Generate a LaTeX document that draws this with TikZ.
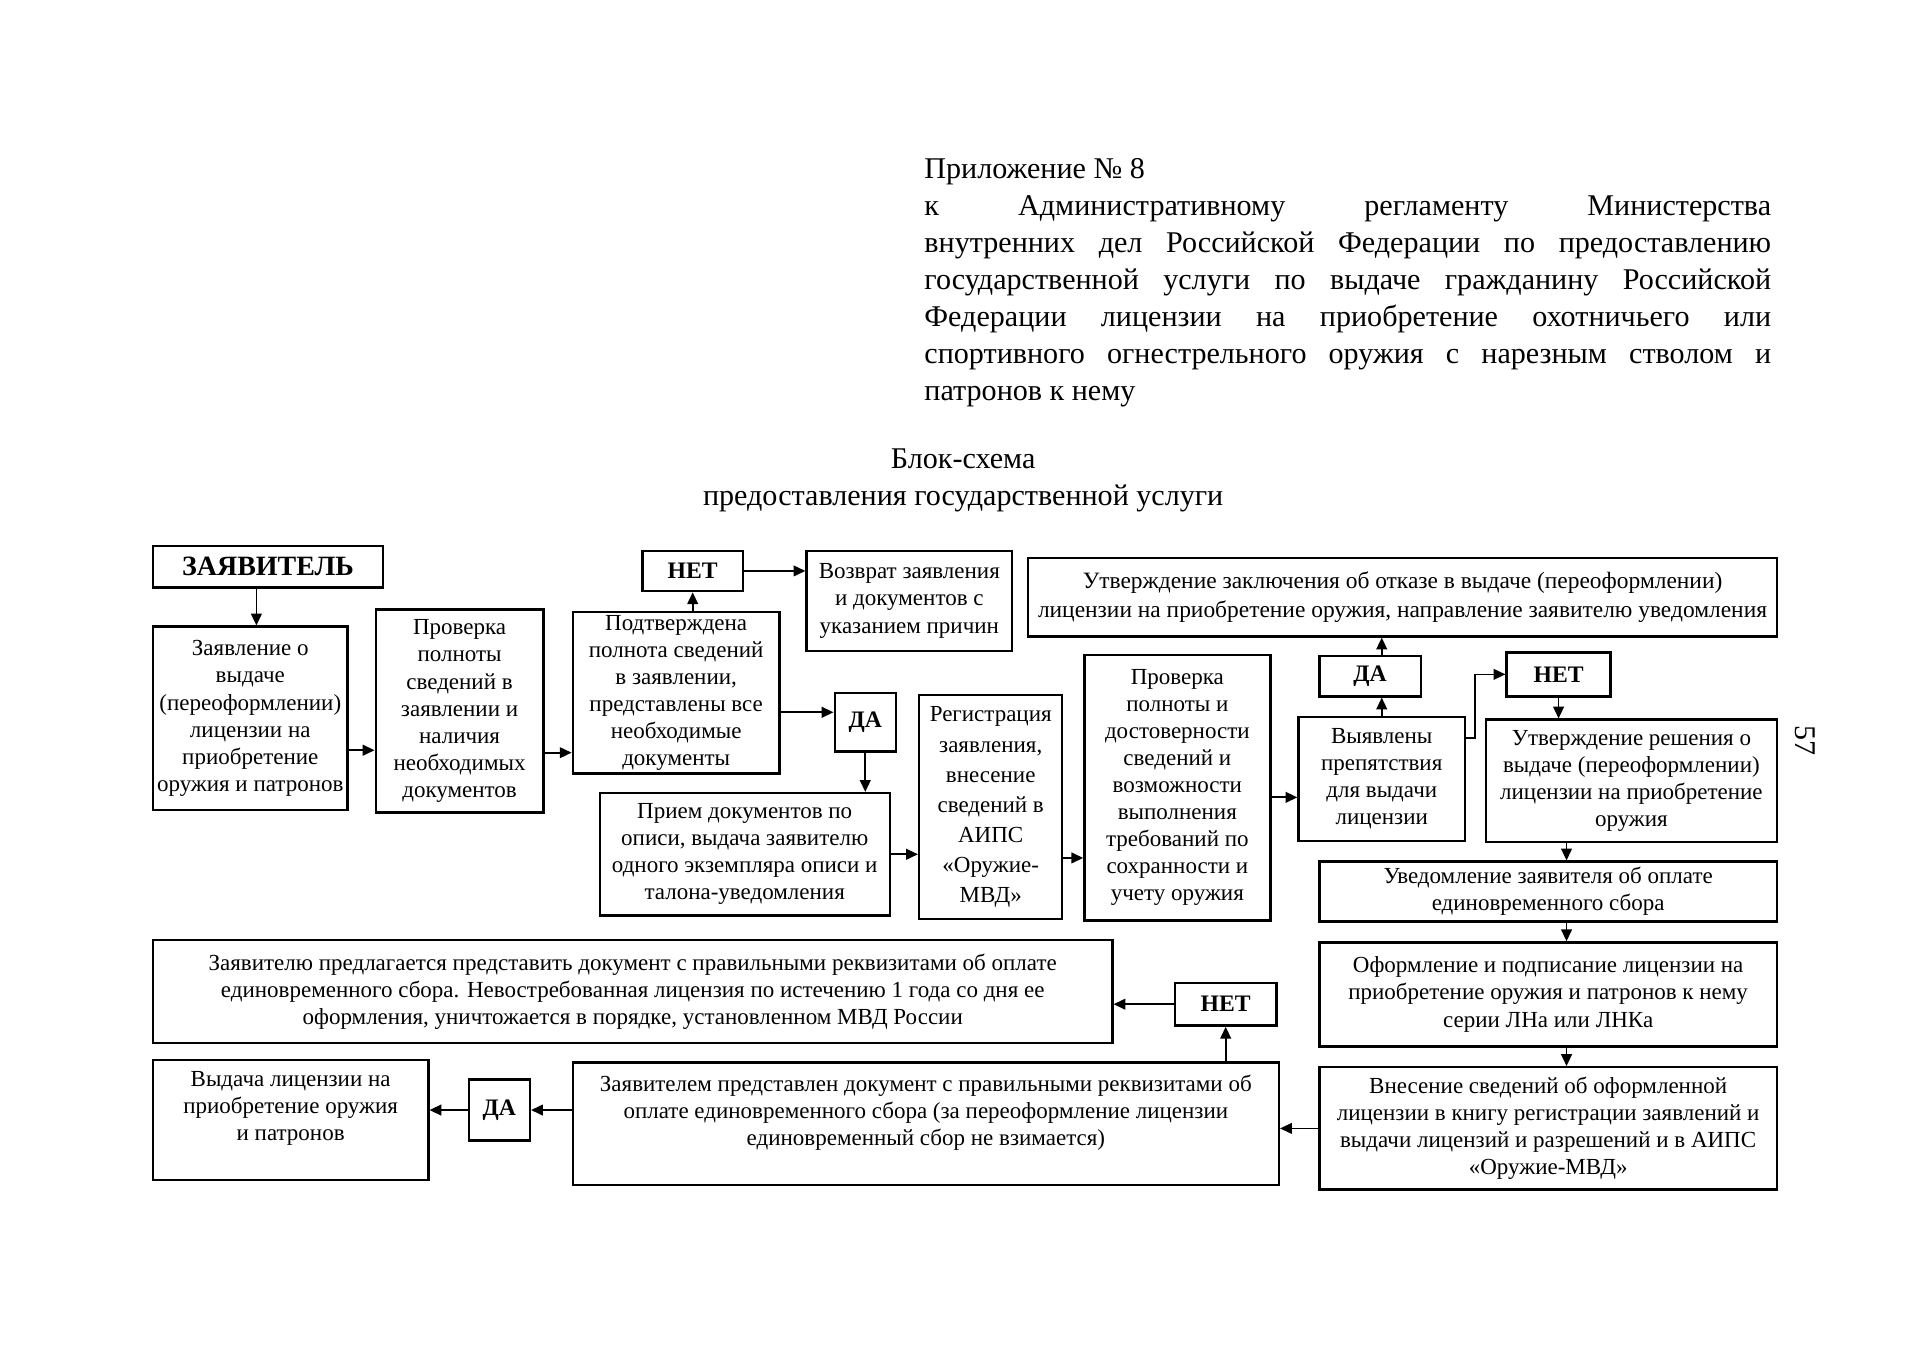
\documentclass[tikz,border=0pt]{standalone}
\usepackage{fontspec}
\setmainfont{Liberation Serif}
\usetikzlibrary{arrows.meta}

\begin{document}
\begin{tikzpicture}[x=0.02cm,y=-0.02cm,
  box/.style={draw,line width=1.1pt,align=center,inner sep=1pt,font=\fontsize{10.7}{12.6}\selectfont},
  ans/.style={draw,line width=1.1pt,inner sep=0pt,font=\fontsize{11}{13}\selectfont\bfseries},
  arr/.style={line width=0.8pt,-{Triangle[length=5.5pt,width=5pt]}}]
\useasboundingbox (0,0) rectangle (1568,1108.8);
\node[anchor=base west,text width=13.84cm,align=justify,inner sep=0pt,font=\fontsize{14}{17.2}\selectfont] (head) at (755,146)
  {Приложение №~8\\ к Административному регламенту Министерства\linebreak
   внутренних дел Российской Федерации по предоставлению\linebreak
   государственной услуги по выдаче гражданину Российской\linebreak
   Федерации лицензии на приобретение охотничьего или\linebreak
   спортивного огнестрельного оружия с нарезным стволом и\linebreak
   патронов к нему};
\node[anchor=base,align=center,inner sep=0pt,font=\fontsize{14}{17.2}\selectfont] (title) at (787,413)
  {Блок-схема\\ предоставления государственной услуги};
\node[rotate=-90,inner sep=0pt,font=\fontsize{14}{17}\selectfont] (page) at (1475,605) {57};

\node[box,font=\fontsize{13}{15}\selectfont\bfseries,minimum width=3.76cm,minimum height=0.68cm] (zaj) at (219,463) {ЗАЯВИТЕЛЬ};
\node[box,minimum width=3.18cm,minimum height=3.0cm] (zayavl) at (204.5,587)
  {Заявление о\\ выдаче\\ (переоформлении)\\ лицензии на\\ приобретение\\ оружия и патронов};
\node[box,minimum width=2.74cm,minimum height=3.32cm] (prov1) at (375.5,581)
  {Проверка\\ полноты\\ сведений в\\ заявлении и\\ наличия\\ необходимых\\ документов};
\node[box,minimum width=3.38cm,minimum height=2.64cm] (podtv) at (552.5,566)
  {Подтверждена\\ полнота сведений\\ в заявлении,\\ представлены все\\ необходимые\\ документы};
\node[ans,minimum width=1.64cm,minimum height=0.66cm] (net1) at (566,466.5) {НЕТ};
\node[box,minimum width=3.36cm,minimum height=1.64cm] (vozvr) at (743,491)
  {Возврат заявления\\ и документов с\\ указанием причин};
\node[ans,minimum width=1.0cm,minimum height=0.96cm] (da1) at (707,590) {ДА};
\node[box,minimum width=4.74cm,minimum height=2.0cm] (priem) at (608.5,698)
  {Прием документов по\\ описи, выдача заявителю\\ одного экземпляра описи и\\ талона-уведомления};
\node[box,font=\fontsize{10.7}{14}\selectfont,minimum width=2.34cm,minimum height=3.66cm] (regist) at (809.5,659.5)
  {Регистрация\\ заявления,\\ внесение\\ сведений в\\ АИПС\\ «Оружие-\\ МВД»};
\node[box,minimum width=3.04cm,minimum height=4.34cm] (prov2) at (962,643.5)
  {Проверка\\ полноты и\\ достоверности\\ сведений и\\ возможности\\ выполнения\\ требований по\\ сохранности и\\ учету оружия};
\node[box,font=\fontsize{10.9}{13.6}\selectfont,minimum width=12.24cm,minimum height=1.28cm] (otkaz) at (1146,488)
  {Утверждение заключения об отказе в выдаче (переоформлении)\\ лицензии на приобретение оружия, направление заявителю уведомления};
\node[ans,minimum width=1.66cm,minimum height=0.66cm] (da2) at (1119.5,552.5) {ДА};
\node[box,minimum width=2.72cm,minimum height=2.02cm] (vyyavl) at (1129,636.5)
  {Выявлены\\ препятствия\\ для выдачи\\ лицензии};
\node[ans,minimum width=1.7cm,minimum height=0.72cm] (net2) at (1273.5,551) {НЕТ};
\node[box,minimum width=4.76cm,minimum height=2.0cm] (resh) at (1333,638)
  {Утверждение решения о\\ выдаче (переоформлении)\\ лицензии на приобретение\\ оружия};
\node[box,minimum width=7.48cm,minimum height=0.98cm] (uved) at (1265,728.5)
  {Уведомление заявителя об оплате\\ единовременного сбора};
\node[box,minimum width=7.48cm,minimum height=1.7cm] (oform) at (1265,812.5)
  {Оформление и подписание лицензии на\\ приобретение оружия и патронов к нему\\ серии ЛНа или ЛНКа};
\node[box,minimum width=7.48cm,minimum height=2.0cm] (vnes) at (1265,922)
  {Внесение сведений об оформленной\\ лицензии в книгу регистрации заявлений и\\ выдачи лицензий и разрешений и в АИПС\\ «Оружие-МВД»};
\node[box,minimum width=11.54cm,minimum height=2.0cm] (predst) at (756.5,918)
  {Заявителем представлен документ с правильными реквизитами об\\ оплате единовременного сбора (за переоформление лицензии\\ единовременный сбор не взимается)\\ \mbox{}};
\node[ans,minimum width=1.66cm,minimum height=0.7cm] (net3) at (1001.5,820.5) {НЕТ};
\node[box,minimum width=15.68cm,minimum height=1.68cm] (predl) at (517,810)
  {Заявителю предлагается представить документ с правильными реквизитами об оплате\\ единовременного сбора. Невостребованная лицензия по истечению 1 года со дня ее\\ оформления, уничтожается в порядке, установленном МВД России};
\node[ans,minimum width=1.0cm,minimum height=1.0cm] (da3) at (408,907) {ДА};
\node[box,minimum width=4.5cm,minimum height=1.96cm] (vydacha) at (237.5,915)
  {Выдача лицензии на\\ приобретение оружия\\ и патронов\\ \mbox{}};

\draw[arr] ([xshift=0.1cm]zaj.south -| zayavl.north) -- ([xshift=0.1cm]zayavl.north);
\draw[arr] ([yshift=-0.52cm]zayavl.east) -- ([yshift=-0.52cm]zayavl.east -| prov1.west);
\draw[arr] ([yshift=-0.68cm]prov1.east) -- ([yshift=-0.68cm]prov1.east -| podtv.west);
\draw[arr] (podtv.north -| net1) -- (net1.south);
\draw[arr] (net1.east) -- (net1.east -| vozvr.west);
\draw[arr] ([yshift=0.16cm]da1.west -| podtv.east) -- ([yshift=0.16cm]da1.west);
\draw[arr] (da1.south) -- (da1.south |- priem.north);
\draw[arr] (priem.east) -- (priem.east -| regist.west);
\draw[arr] ([yshift=-0.83cm]regist.east) -- ([yshift=-0.83cm]regist.east -| prov2.west);
\draw[arr] ([yshift=-0.3cm]vyyavl.west -| prov2.east) -- ([yshift=-0.3cm]vyyavl.west);
\draw[arr] (vyyavl.north) -- (vyyavl.north |- da2.south);
\draw[arr] (da2.north -| vyyavl) -- (vyyavl |- otkaz.south);
\draw[arr] ([yshift=0.67cm]vyyavl.east) -- ++(7,0) |- (net2.west);
\draw[arr] (net2.south) -- (net2.south |- resh.north);
\draw[arr] ([xshift=0.3cm]uved.north |- resh.south) -- ([xshift=0.3cm]uved.north);
\draw[arr] ([xshift=0.3cm]uved.south) -- ([xshift=0.3cm]oform.north);
\draw[arr] ([xshift=0.3cm]oform.south) -- ([xshift=0.3cm]vnes.north);
\draw[arr] (vnes.west) -- (vnes.west -| predst.east);
\draw[arr] (predst.north -| net3) -- (net3.south);
\draw[arr] (net3.west) -- (net3.west -| predl.east);
\draw[arr] (da3.east -| predst.west) -- (da3.east);
\draw[arr] (da3.west) -- (da3.west -| vydacha.east);
\end{tikzpicture}
\end{document}
